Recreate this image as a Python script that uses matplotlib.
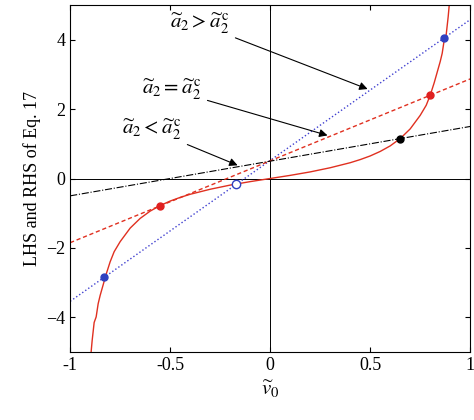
import numpy as np
import matplotlib
matplotlib.use("Agg")
import matplotlib.pyplot as plt

plt.rcParams['font.family'] = ['Liberation Serif', 'DejaVu Serif']
plt.rcParams['mathtext.fontset'] = 'stix'

# LHS curve
curve_x = [-0.9, -0.89, -0.88, -0.87, -0.86, -0.85, -0.82, -0.8, -0.78, -0.75, -0.7, -0.65, -0.6, -0.55, -0.5,
           -0.45, -0.4, -0.3, -0.2, -0.1, 0.0,
           0.1, 0.2, 0.3, 0.4, 0.45, 0.5, 0.55, 0.6, 0.65, 0.7, 0.75, 0.78, 0.8, 0.82, 0.85, 0.86, 0.87,
           0.88, 0.89, 0.9]
curve_y = [-5.31, -4.67, -4.15, -3.99, -3.61, -3.37, -2.76, -2.40, -2.11, -1.82, -1.43, -1.15, -0.94, -0.78,
           -0.65, -0.545, -0.455, -0.31, -0.19, -0.09, 0.0,
           0.09, 0.19, 0.31, 0.455, 0.545, 0.65, 0.78, 0.94, 1.15, 1.43, 1.82, 2.11, 2.40, 2.76, 3.37, 3.61,
           3.99, 4.15, 4.67, 5.31]

# RHS lines: endpoints
line_x = [-1.0, 1.0]
blue_y = [-3.54, 4.58]
red_y = [-1.85, 2.87]
black_y = [-0.5, 1.5]

# Intersection points
blue_pts_x = [-0.83, 0.87]; blue_pts_y = [-2.85, 4.05]
open_pt_x = [-0.17]; open_pt_y = [-0.17]
red_pts_x = [-0.55, 0.8]; red_pts_y = [-0.78, 2.4]
black_pts_x = [0.65]; black_pts_y = [1.15]

fig = plt.figure(figsize=(4.74, 4.2), dpi=100)
ax = fig.add_axes([0.148, 0.162, 0.844, 0.826])
ax.axhline(0, color='black', lw=0.7)
ax.axvline(0, color='black', lw=0.7)
ax.plot(line_x, blue_y, color='#4040d0', ls=':', lw=1)
ax.plot(line_x, red_y, color='#e03020', ls=(0, (3, 2)), lw=1)
ax.plot(line_x, black_y, color='black', ls='-.', lw=0.8)
ax.plot(curve_x, curve_y, color='#e03020', lw=1)
ax.plot(blue_pts_x, blue_pts_y, 'o', color='#3040c0', ms=5)
ax.plot(open_pt_x, open_pt_y, 'o', mfc='white', mec='#3040c0', ms=6)
ax.plot(red_pts_x, red_pts_y, 'o', color='#e02020', ms=5)
ax.plot(black_pts_x, black_pts_y, 'o', color='black', ms=5)

ap = dict(arrowstyle='-|>', color='black', lw=0.8, mutation_scale=12)
ax.annotate(r'$\widetilde{a}_2 > \widetilde{a}_2^{\,\mathrm{c}}$', xy=(0.5, 2.55), xytext=(-0.5, 4.1),
            fontsize=15, va='bottom', arrowprops=ap)
ax.annotate(r'$\widetilde{a}_2 = \widetilde{a}_2^{\,\mathrm{c}}$', xy=(0.3, 1.22), xytext=(-0.64, 2.2),
            fontsize=15, va='bottom', arrowprops=ap)
ax.annotate(r'$\widetilde{a}_2 < \widetilde{a}_2^{\,\mathrm{c}}$', xy=(-0.15, 0.35), xytext=(-0.74, 1.05),
            fontsize=15, va='bottom', arrowprops=ap)

ax.set_xlim(-1, 1); ax.set_ylim(-5, 5)
ax.set_xticks([-1, -0.5, 0, 0.5, 1]); ax.set_xticklabels(['-1', '-0.5', '0', '0.5', '1'])
ax.set_yticks([-4, -2, 0, 2, 4])
ax.tick_params(direction='in', top=True, right=True, labelsize=13)
ax.set_xlabel(r'$\widetilde{v}_0$', fontsize=15)
ax.set_ylabel('LHS and RHS of Eq. 17', fontsize=13)
fig.savefig('out.png', dpi=100)
